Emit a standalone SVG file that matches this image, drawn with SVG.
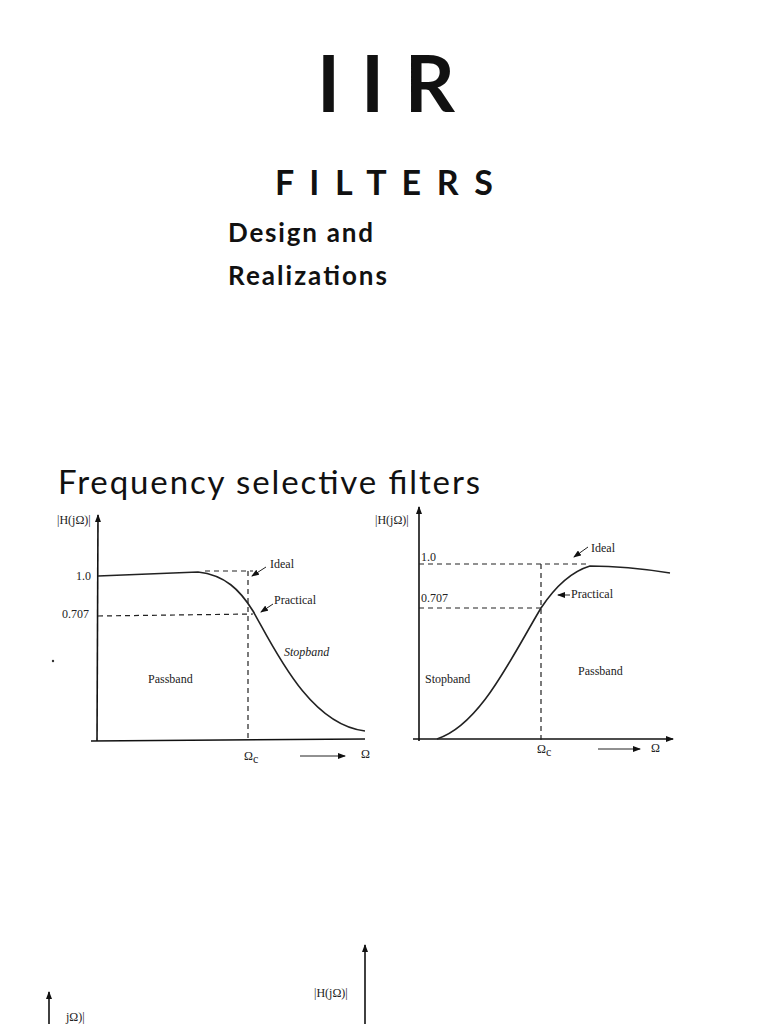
<svg xmlns="http://www.w3.org/2000/svg" width="768" height="1024" viewBox="0 0 768 1024">
<defs>
<marker id="ah" markerWidth="8" markerHeight="6" refX="7" refY="3" orient="auto" markerUnits="userSpaceOnUse"><path d="M0,0 L8,3 L0,6 z" fill="#111"/></marker>
</defs>
<style>
.h{font-family:Lato,"Open Sans",sans-serif;font-weight:bold;fill:#111}
.t{font-family:"Liberation Serif",serif;font-size:12px;fill:#222}
.ax{stroke:#111;stroke-width:1.6;fill:none}
.cv{stroke:#222;stroke-width:1.6;fill:none}
.d{stroke:#222;stroke-width:1.2;stroke-dasharray:5,4;fill:none}
.p{stroke:#222;stroke-width:1;fill:none}
</style>
<rect width="768" height="1024" fill="#fff"/>
<text class="h" x="386" y="112" font-size="78" text-anchor="middle" textLength="138">I I R</text>
<text class="h" x="384" y="195" font-size="34" text-anchor="middle" textLength="218">F I L T E R S</text>
<text class="h" x="228" y="242" font-size="26" textLength="145">Design and</text>
<text class="h" x="228" y="285" font-size="26" textLength="159">Realizations</text>
<text x="58" y="494" font-family="Lato,'Open Sans',sans-serif" font-size="33" fill="#111" textLength="422">Frequency selective filters</text>

<g id="plot1">
<path class="ax" d="M91,741 L365,739" />
<path class="ax" d="M97,741 L98,515" marker-end="url(#ah)"/>
<path class="cv" d="M98,576 L198,572 C225,575 240,590 253,611 C275,650 310,725 365,731"/>
<path class="d" d="M205,571 L253,571 M248,571 L248,740 M98,616 L253,614"/>
<text class="t" x="57" y="524">|H(jΩ)|</text>
<text class="t" x="76" y="580">1.0</text>
<text class="t" x="62" y="618">0.707</text>
<text class="t" x="270" y="568">Ideal</text>
<text class="t" x="274" y="604">Practical</text>
<text class="t" x="284" y="656" font-style="italic">Stopband</text>
<text class="t" x="148" y="683">Passband</text>
<text class="t" x="244" y="760">Ω</text><text class="t" x="253" y="763" font-size="8">c</text>
<path class="p" d="M300,756 L345,756" marker-end="url(#ah)"/>
<text class="t" x="361" y="758">Ω</text>
<path class="p" d="M266,567 L252,576" marker-end="url(#ah)"/>
<path class="p" d="M273,604 L261,612" marker-end="url(#ah)"/>
<circle cx="53" cy="661" r="1.2" fill="#333"/>
</g>

<g id="plot2">
<path class="ax" d="M413,739 L673,739" marker-end="url(#ah)"/>
<path class="ax" d="M419,741 L419,507" marker-end="url(#ah)"/>
<path class="cv" d="M437,739 C480,725 510,660 541,608 C555,587 570,572 590,566 C620,566 645,569 670,573"/>
<path class="d" d="M419,564 L590,564 M541,564 L541,740 M419,608 L543,608"/>
<text class="t" x="375" y="524">|H(jΩ)|</text>
<text class="t" x="421" y="561">1.0</text>
<text class="t" x="421" y="602">0.707</text>
<text class="t" x="591" y="552">Ideal</text>
<text class="t" x="571" y="598">Practical</text>
<text class="t" x="425" y="683">Stopband</text>
<text class="t" x="578" y="675">Passband</text>
<text class="t" x="537" y="753">Ω</text><text class="t" x="546" y="756" font-size="8">c</text>
<path class="p" d="M598,749 L640,749" marker-end="url(#ah)"/>
<text class="t" x="651" y="752">Ω</text>
<path class="p" d="M588,547 L574,557" marker-end="url(#ah)"/>
<path class="p" d="M570,595 L558,595" marker-end="url(#ah)"/>
</g>

<g id="plot3">
<path class="ax" d="M365,1024 L365,945" marker-end="url(#ah)"/>
<text class="t" x="314" y="997">|H(jΩ)|</text>
<path class="ax" d="M49,1024 L49,992" marker-end="url(#ah)"/>
<text class="t" x="66" y="1021">jΩ)|</text>
</g>
</svg>
